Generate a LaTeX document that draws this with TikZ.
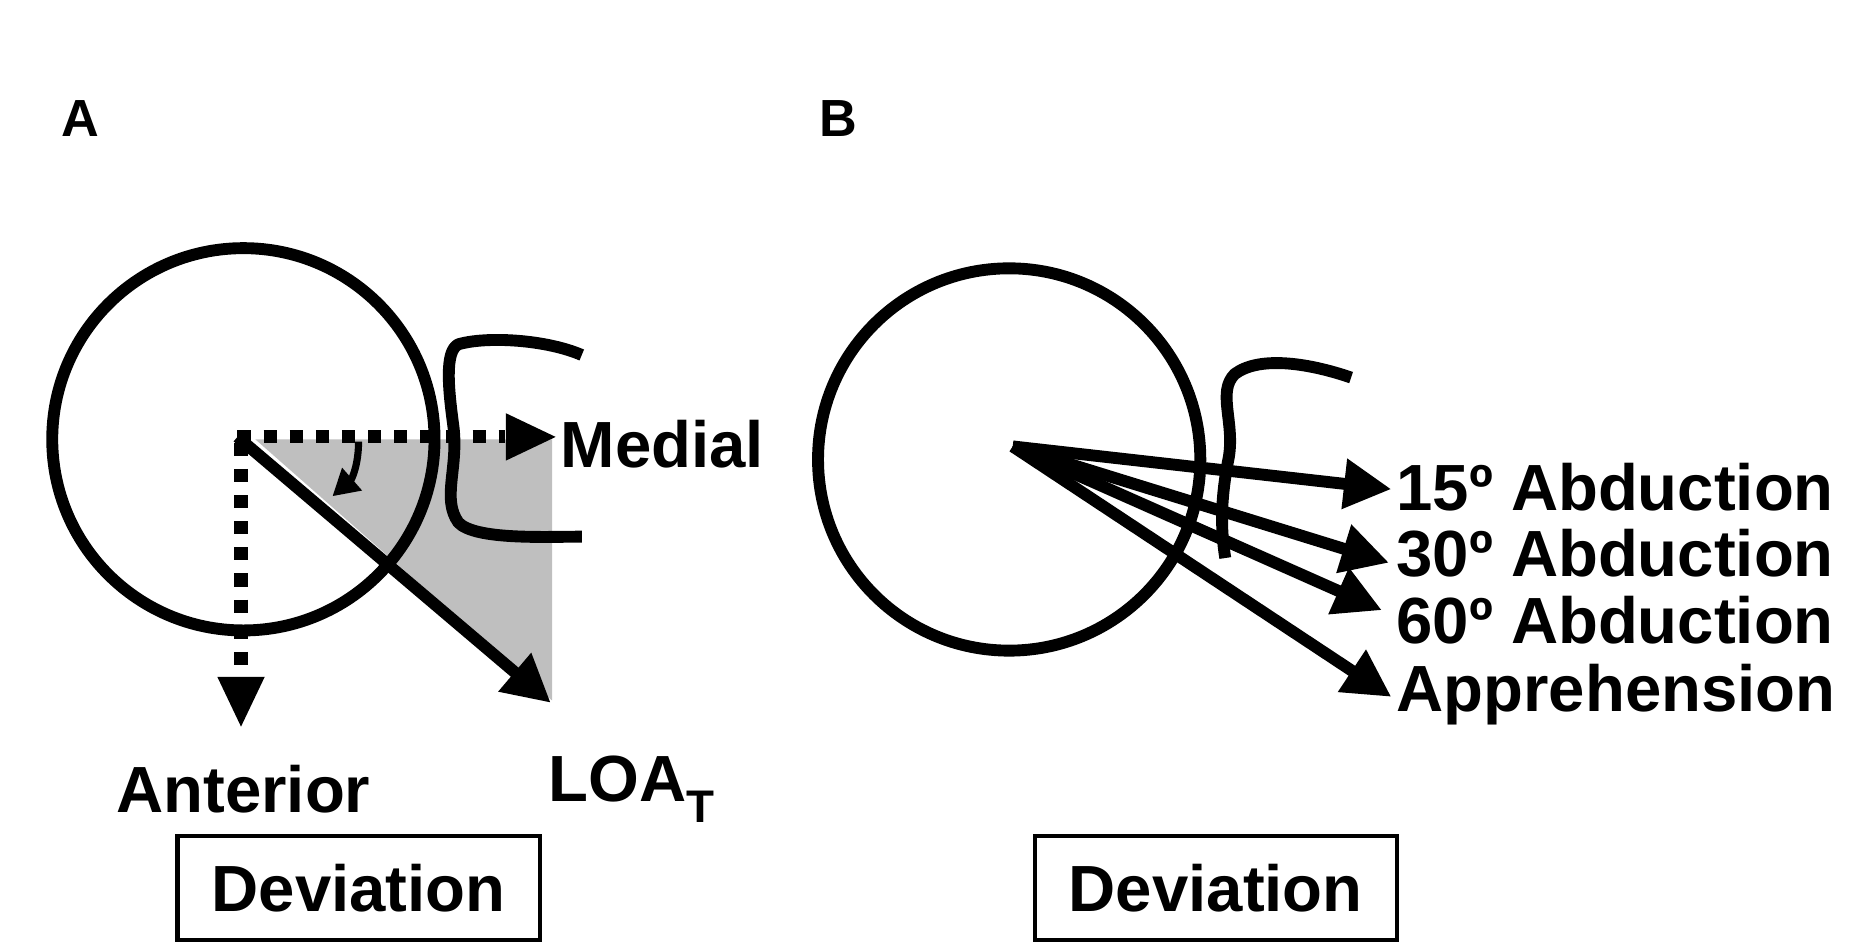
\documentclass[tikz,border=0pt]{standalone}
\usepackage{fontspec}
\setmainfont{Liberation Sans}
\usetikzlibrary{arrows.meta}
\begin{document}
\begin{tikzpicture}[x=1pt,y=-1pt,
  thick line/.style={line width=10pt},
  tip/.style={-{Triangle[length=40pt,width=40pt]}},
  dotl/.style={line width=11pt,dash pattern=on 11pt off 11pt},
  lbl/.style={font=\fontsize{55}{60}\selectfont\bfseries,inner sep=0pt},
  panel/.style={font=\fontsize{44}{48}\selectfont\bfseries,inner sep=0pt},
  box/.style={draw,line width=3.5pt,minimum width=305pt,minimum height=88pt,font=\fontsize{55}{60}\selectfont\bfseries}]
\useasboundingbox (0,0) rectangle (1570,793);
% Panel A
\node[panel] (pA) at (68,100) {A};
\fill[gray!50] (215,370) -- (465,370) -- (465,590) -- cycle;
\coordinate (oA) at (200,368);
\node[draw,circle,line width=10pt,minimum size=322pt,inner sep=0pt] (cA) at (205,370) {};
\coordinate (loa) at (464,592);
\draw[dotl] (oA) -- (425,368);
\draw[dotl] (203,373) -- (203,570);
\fill (426,348) -- (468,368) -- (426,388) -- cycle;
\fill (183,570) -- (223,570) -- (203,612) -- cycle;
\draw[thick line,tip] (oA) -- (loa);
\draw[line width=6pt,-{Triangle[length=22pt,width=24pt]}] (302,372) .. controls (302,392) and (296,404) .. (280,418);
\draw[thick line,line join=round] (490,299) .. controls (460,286) and (410,283) .. (386,290)
  .. controls (374,296) and (378,330) .. (382,360)
  .. controls (386,395) and (372,420) .. (386,440)
  .. controls (400,455) and (460,452) .. (490,452);
\node[lbl,anchor=west] (tmed) at (472,374) {Medial};
\node[lbl] (tant) at (205,665) {Anterior};
\node[lbl,anchor=west] (tloa) at (462,665) {LOA\textsubscript{T}};
\node[box] (bA) at (302,748) {Deviation};
% Panel B
\node[panel] (pB) at (706,100) {B};
\node[draw,circle,line width=10pt,minimum size=322pt,inner sep=0pt] (cB) at (850,387) {};
\coordinate (oB) at (853,376);
\draw[thick line,line join=round] (1138,318) .. controls (1100,305) and (1060,300) .. (1040,315)
  .. controls (1025,330) and (1040,355) .. (1035,385)
  .. controls (1028,420) and (1028,445) .. (1032,470);
\coordinate (a15) at (1172,412);
\coordinate (a30) at (1170,474);
\coordinate (a60) at (1164,514);
\coordinate (aAp) at (1172,587);
\draw[thick line,tip] (oB) -- (a15);
\draw[thick line,tip] (oB) -- (a30);
\draw[thick line,tip] (oB) -- (a60);
\draw[thick line,tip] (oB) -- (aAp);
\node[lbl,anchor=west] (t15) at (1176,410) {15º Abduction};
\node[lbl,anchor=west] (t30) at (1176,466) {30º Abduction};
\node[lbl,anchor=west] (t60) at (1176,522) {60º Abduction};
\node[lbl,anchor=west] (tAp) at (1176,585) {Apprehension};
\node[box] (bB) at (1024,748) {Deviation};
\end{tikzpicture}
\end{document}
